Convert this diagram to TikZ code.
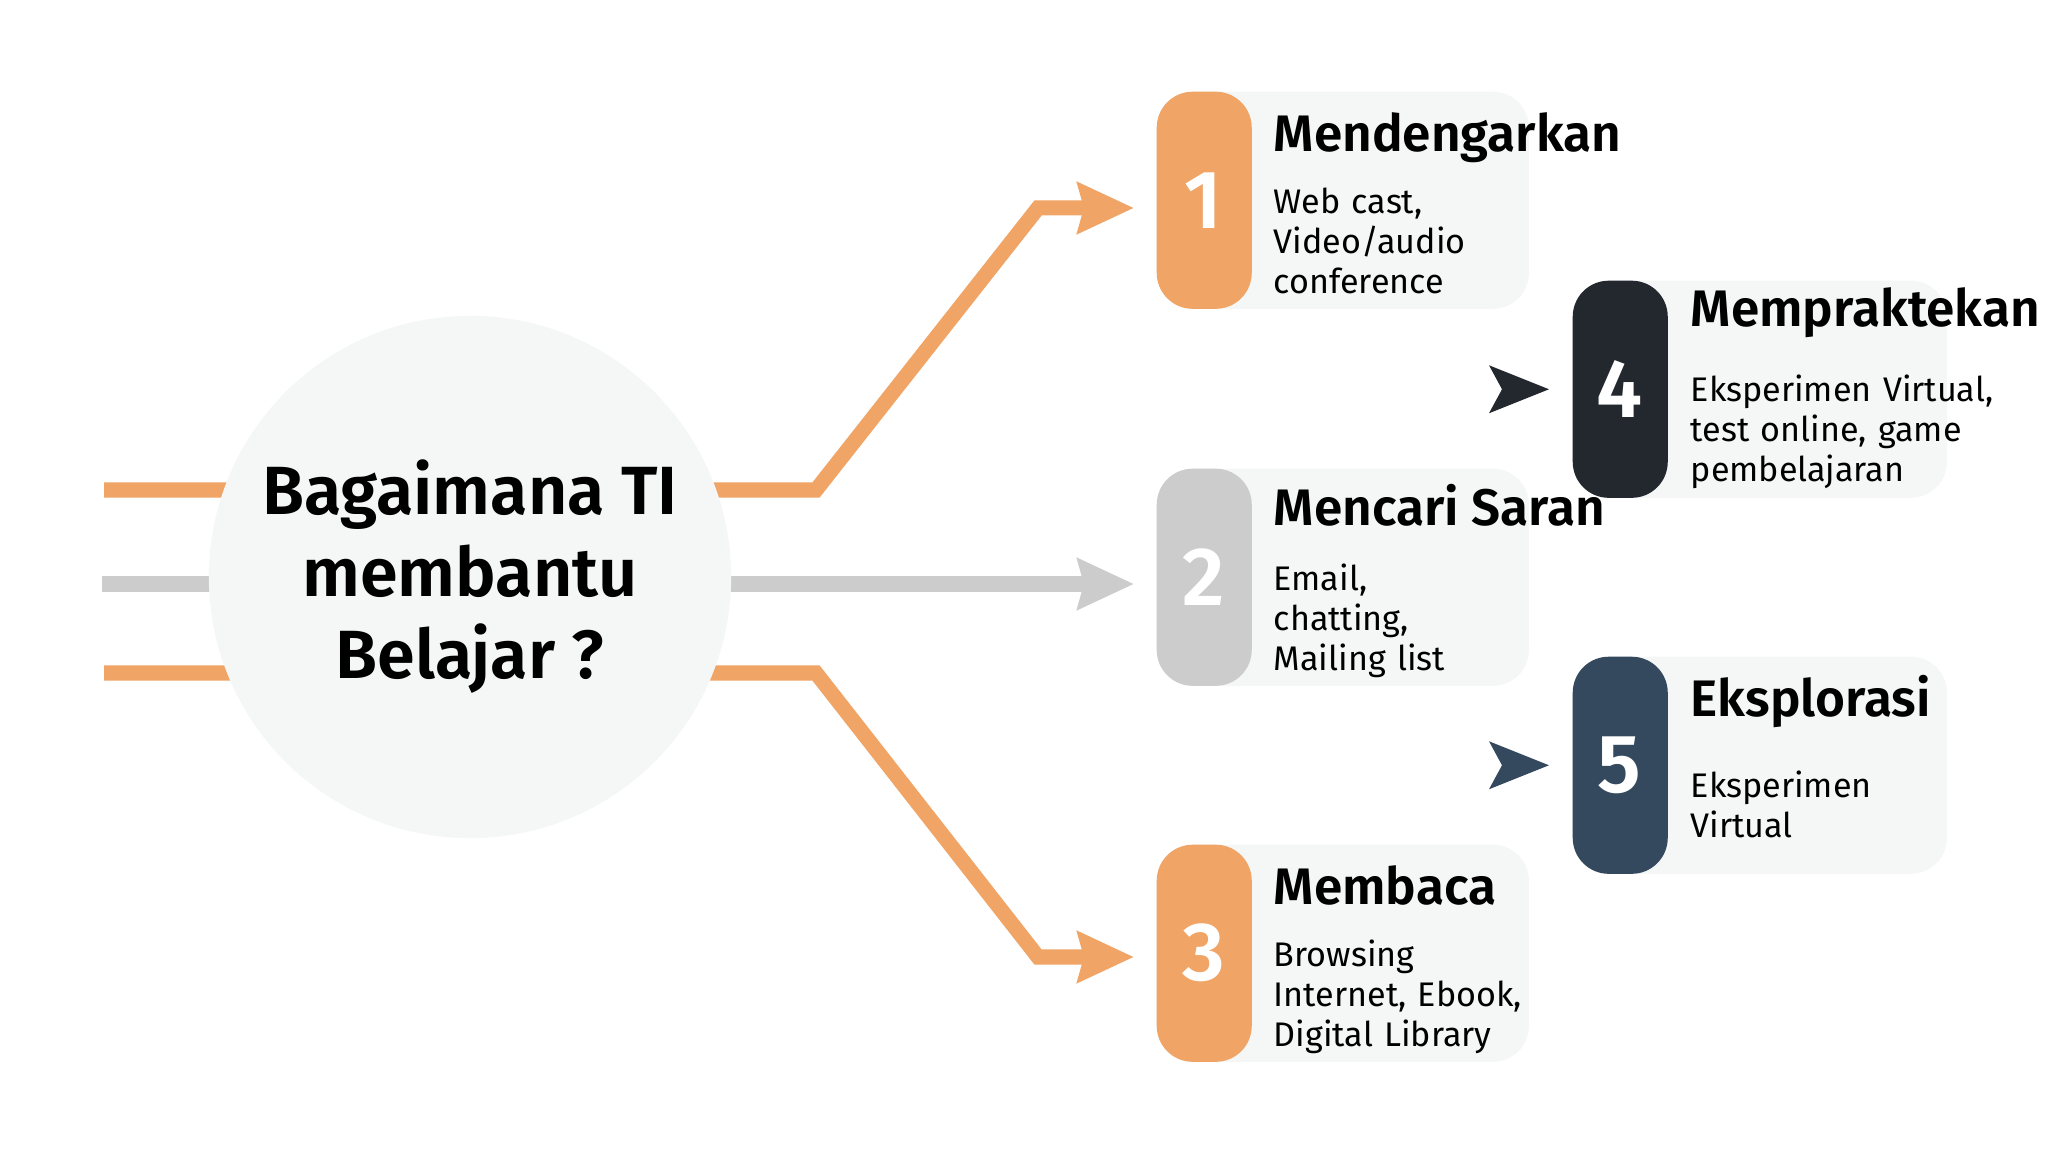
\documentclass[tikz,border=0pt]{standalone}
\usepackage{fontspec}
\IfFontExistsTF{Fira Sans SemiBold}
  {\setmainfont{Fira Sans}[BoldFont={Fira Sans SemiBold}]}
  {\setmainfont{Fira Sans}}
\usetikzlibrary{positioning,arrows.meta,backgrounds}
\definecolor{peach}{HTML}{F0A465}
\definecolor{silver}{HTML}{CCCCCC}
\definecolor{ink}{HTML}{23272E}
\definecolor{slate}{HTML}{34495E}
\definecolor{paper}{HTML}{F5F7F7}
\tikzset{
  card/.style={rectangle, rounded corners=0.36cm, fill=paper, minimum width=3.72cm,
    minimum height=2.17cm, anchor=north west, inner sep=0pt,
    path picture={\fill[#1] (path picture bounding box.north west)
      rectangle ([xshift=0.95cm]path picture bounding box.south west);}},
  digit/.style={text=white, inner sep=0pt, font=\fontsize{23.5}{28}\selectfont\bfseries},
  head/.style={anchor=base west, inner sep=0pt, font=\fontsize{14.6}{18}\selectfont\bfseries},
  body/.style={anchor=base west, inner sep=0pt, align=left, text width=4cm,
    font=\fontsize{9.7}{11.5}\selectfont},
  flow/.style={draw=#1, line width=0.15cm, shorten >=0.22cm,
    -{Stealth[length=0.56cm,width=0.5cm,inset=0.06cm]}}
}
\begin{document}
\begin{tikzpicture}[x=0.01cm,y=-0.01cm]
  \useasboundingbox (0,0) rectangle (2048,1152);
  \node[circle, fill=paper, minimum size=5.22cm, inner sep=0pt, align=center,
    font=\fontsize{19.4}{23.3}\selectfont\bfseries] (q) at (470,577)
    {Bagaimana TI\\membantu\\Belajar ?};
  \node[card=peach] (b1) at (1156,91) {};
  \node[card=silver] (b2) at (1156,468) {};
  \node[card=peach] (b3) at (1156,844) {};
  \node[card=ink, minimum width=3.74cm] (b4) at (1572,280) {};
  \node[card=slate, minimum width=3.74cm] (b5) at (1572,656) {};
  \foreach \b/\d in {b1/1,b2/2,b3/3,b4/4,b5/5}
    \node[digit] (d\d) at ([xshift=0.475cm]\b.west) {\d};
  \node[head] (t1) at ([xshift=1.17cm,yshift=-0.60cm]b1.north west) {Mendengarkan};
  \node[head] (t2) at ([xshift=1.17cm,yshift=-0.57cm]b2.north west) {Mencari Saran};
  \node[head] (t3) at ([xshift=1.17cm,yshift=-0.60cm]b3.north west) {Membaca};
  \node[head] (t4) at ([xshift=1.18cm,yshift=-0.46cm]b4.north west) {Mempraktekan};
  \node[head] (t5) at ([xshift=1.18cm,yshift=-0.60cm]b5.north west) {Eksplorasi};
  \node[body] (s1) at ([xshift=1.17cm,yshift=-1.22cm]b1.north west) {Web cast,\\Video/audio\\conference};
  \node[body] (s2) at ([xshift=1.17cm,yshift=-1.22cm]b2.north west) {Email,\\chatting,\\Mailing list};
  \node[body] (s3) at ([xshift=1.17cm,yshift=-1.22cm]b3.north west) {Browsing\\Internet, Ebook,\\Digital Library};
  \node[body] (s4) at ([xshift=1.18cm,yshift=-1.21cm]b4.north west) {Eksperimen Virtual,\\test online, game\\pembelajaran};
  \node[body] (s5) at ([xshift=1.18cm,yshift=-1.41cm]b5.north west) {Eksperimen\\Virtual};
  \foreach \b/\col in {b4/ink,b5/slate}
    \fill[\col] ([xshift=-0.23cm]\b.west) -- ++(-60,-24) -- ++(13,24) -- ++(-13,24) -- cycle;
  \coordinate (in1) at (104,490); \coordinate (in2) at (102,584); \coordinate (in3) at (104,673);
  \coordinate (k1a) at (816,490); \coordinate (k1b) at (1038,208);
  \coordinate (k3a) at (816,673); \coordinate (k3b) at (1038,957);
  \begin{scope}[on background layer]
    \fill[white] (0,0) rectangle (2048,1152);
    \draw[flow=peach] (in1) -- (k1a) -- (k1b) -- (b1.west |- k1b);
    \draw[flow=silver] (in2) -- (b2.west |- in2);
    \draw[flow=peach] (in3) -- (k3a) -- (k3b) -- (b3.west |- k3b);
  \end{scope}
\end{tikzpicture}
\end{document}
